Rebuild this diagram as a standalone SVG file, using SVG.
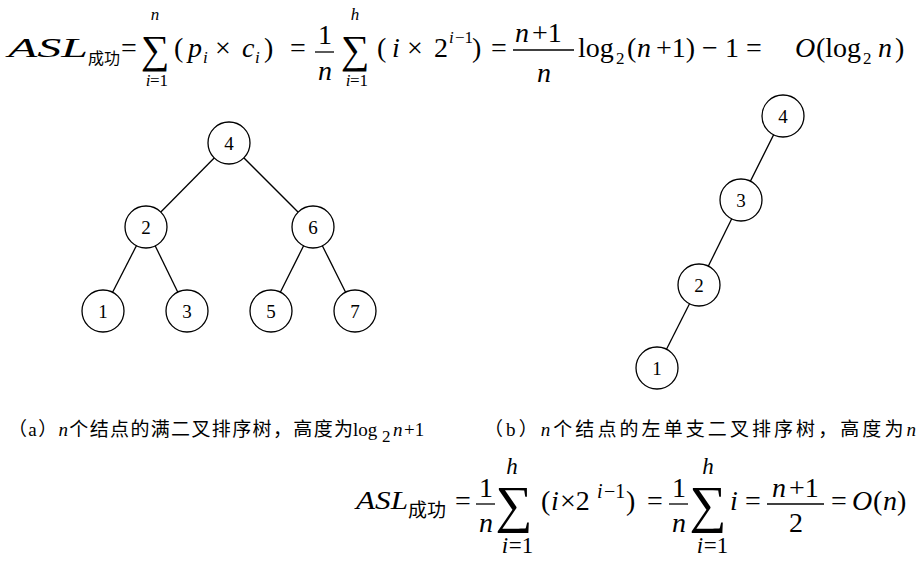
<svg xmlns="http://www.w3.org/2000/svg" width="923" height="561" viewBox="0 0 923 561">
<style>
text{font-family:"Liberation Serif","Times New Roman","DejaVu Serif",serif}
.n circle{fill:#fff;stroke:#000;stroke-width:1.3}
.n text{font-size:19px;text-anchor:middle}
.e line{stroke:#000;stroke-width:1.3}
.fl{stroke:#000;stroke-width:1.3}
.m{font-size:28px}
.s{font-size:17px}
.i{font-style:italic}
.c{font-family:"Liberation Serif","Noto Sans CJK SC",serif;font-size:19px}
.cs{font-family:"Noto Sans CJK SC",sans-serif;font-size:16px}
.big{font-size:40px}
.bb{font-size:52px}
.t{text-anchor:middle}
</style>
<rect width="923" height="561" fill="#fff"/>
<g id="formula-top">
<text x="8" y="57" class="m i" textLength="80" lengthAdjust="spacingAndGlyphs">ASL</text>
<text x="88" y="64" class="cs">成功</text>
<text x="121" y="57" class="m">=</text>
<text x="155" y="63" class="big t">∑</text>
<text x="155" y="20" class="s i t">n</text>
<text x="148" y="86" class="s i t">i</text><text x="159" y="86" class="s t">=1</text>
<text x="174" y="57" class="m">(</text>
<text x="188" y="57" class="m i">p</text>
<text x="203" y="63" class="s i">i</text>
<text x="215" y="57" class="m">×</text>
<text x="242" y="57" class="m i">c</text>
<text x="255" y="63" class="s i">i</text>
<text x="264" y="57" class="m">)</text>
<text x="290" y="57" class="m">=</text>
<text x="325" y="44" class="m t">1</text>
<line x1="315" y1="52" x2="334" y2="52" class="fl"/>
<text x="325" y="80" class="m i t">n</text>
<text x="355" y="63" class="big t">∑</text>
<text x="355" y="20" class="s i t">h</text>
<text x="348" y="86" class="s i t">i</text><text x="359" y="86" class="s t">=1</text>
<text x="377" y="57" class="m">(</text>
<text x="392" y="57" class="m i">i</text>
<text x="407" y="57" class="m">×</text>
<text x="434" y="57" class="m">2</text>
<text x="449" y="43" class="s i">i</text>
<text x="455" y="43" class="s">−1</text>
<text x="472" y="57" class="m">)</text>
<text x="491" y="57" class="m">=</text>
<text x="515" y="42" class="m i">n</text>
<text x="532" y="42" class="m">+1</text>
<line x1="513" y1="50" x2="574" y2="50" class="fl"/>
<text x="544" y="82" class="m i t">n</text>
<text x="578" y="57" class="m">log</text>
<text x="616" y="64" class="s">2</text>
<text x="627" y="57" class="m">(</text>
<text x="637" y="57" class="m i">n</text>
<text x="656" y="57" class="m">+1) − 1 =</text>
<text x="795" y="57" class="m i">O</text>
<text x="816" y="57" class="m">(log</text>
<text x="863" y="64" class="s">2</text>
<text x="878" y="57" class="m i">n</text>
<text x="895" y="57" class="m">)</text>
</g>
<g id="edges" class="e">
<line x1="229" y1="143" x2="146" y2="227"/>
<line x1="229" y1="143" x2="313" y2="227"/>
<line x1="146" y1="227" x2="103" y2="311"/>
<line x1="146" y1="227" x2="187" y2="311"/>
<line x1="313" y1="227" x2="271" y2="311"/>
<line x1="313" y1="227" x2="355" y2="311"/>
<line x1="783" y1="116" x2="741" y2="200"/>
<line x1="741" y1="200" x2="699" y2="285"/>
<line x1="699" y1="285" x2="657" y2="368"/>
</g>
<g id="a4" class="n"><circle cx="229" cy="143" r="21"/><text x="229" y="150">4</text></g>
<g id="a2" class="n"><circle cx="146" cy="227" r="21"/><text x="146" y="234">2</text></g>
<g id="a6" class="n"><circle cx="313" cy="227" r="21"/><text x="313" y="234">6</text></g>
<g id="a1" class="n"><circle cx="103" cy="311" r="21"/><text x="103" y="318">1</text></g>
<g id="a3" class="n"><circle cx="187" cy="311" r="21"/><text x="187" y="318">3</text></g>
<g id="a5" class="n"><circle cx="271" cy="311" r="21"/><text x="271" y="318">5</text></g>
<g id="a7" class="n"><circle cx="355" cy="311" r="21"/><text x="355" y="318">7</text></g>
<g id="b4" class="n"><circle cx="783" cy="116" r="21"/><text x="783" y="123">4</text></g>
<g id="b3" class="n"><circle cx="741" cy="200" r="21"/><text x="741" y="207">3</text></g>
<g id="b2" class="n"><circle cx="699" cy="285" r="21"/><text x="699" y="292">2</text></g>
<g id="b1" class="n"><circle cx="657" cy="368" r="21"/><text x="657" y="375">1</text></g>
<g id="captions">
<text x="8" y="436" class="c" textLength="345">（a）<tspan class="i">n</tspan>个结点的满二叉排序树，高度为</text>
<text x="353" y="436" class="c">log</text>
<text x="382" y="442" class="s">2</text>
<text x="393" y="436" class="c i">n</text>
<text x="404" y="436" class="c">+1</text>
<text x="484" y="436" class="c" textLength="432">（b）<tspan class="i">n</tspan>个结点的左单支二叉排序树，高度为<tspan class="i">n</tspan></text>
</g>
<g id="formula-bottom">
<text x="356" y="509" class="m i" style="font-size:26px" textLength="52" lengthAdjust="spacingAndGlyphs">ASL</text>
<text x="408" y="517" class="cs" style="font-size:19px">成功</text>
<text x="455" y="510" class="m">=</text>
<text x="486" y="497" class="m t">1</text>
<line x1="476" y1="504" x2="495" y2="504" class="fl"/>
<text x="486" y="532" class="m i t">n</text>
<text x="514" y="522" class="bb t">∑</text>
<text x="512" y="474" class="m i t" style="font-size:23px">h</text>
<text x="505" y="553" class="m i t" style="font-size:23px">i</text><text x="521" y="553" class="m t" style="font-size:23px">=1</text>
<text x="541" y="510" class="m">(</text>
<text x="551" y="510" class="m i">i</text>
<text x="560" y="510" class="m">×2</text>
<text x="597" y="498" class="m i" style="font-size:20px">i</text>
<text x="604" y="498" class="m" style="font-size:20px">−1</text>
<text x="626" y="510" class="m">)</text>
<text x="647" y="510" class="m">=</text>
<text x="679" y="497" class="m t">1</text>
<line x1="669" y1="504" x2="688" y2="504" class="fl"/>
<text x="679" y="532" class="m i t">n</text>
<text x="708" y="522" class="bb t">∑</text>
<text x="708" y="474" class="m i t" style="font-size:23px">h</text>
<text x="700" y="553" class="m i t" style="font-size:23px">i</text><text x="716" y="553" class="m t" style="font-size:23px">=1</text>
<text x="730" y="510" class="m i">i</text>
<text x="745" y="510" class="m">=</text>
<text x="772" y="497" class="m i">n</text>
<text x="789" y="497" class="m">+1</text>
<line x1="767" y1="504" x2="824" y2="504" class="fl"/>
<text x="796" y="532" class="m t">2</text>
<text x="831" y="510" class="m">=</text>
<text x="852" y="510" class="m i">O</text>
<text x="873" y="510" class="m">(</text>
<text x="883" y="510" class="m i">n</text>
<text x="897" y="510" class="m">)</text>
</g>
</svg>
